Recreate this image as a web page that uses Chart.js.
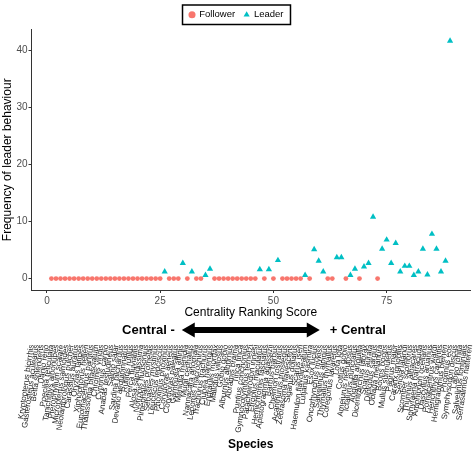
<!DOCTYPE html>
<html>
<head>
<meta charset="utf-8">
<script src="https://cdn.jsdelivr.net/npm/chart.js@4"></script>
<style>
  body { margin: 0; background: #fff; }
  #wrap { width: 474px; height: 453px; }
</style>
</head>
<body>
<div id="wrap"><canvas id="myChart"></canvas></div>
<script>
// Data

const followerRanks = [
  1, 2, 3, 4, 5, 6, 7, 8, 9, 10, 11, 12, 13, 14, 15, 16, 17, 18, 19, 20, 21,
  22, 23, 24, 25, 27, 28, 29, 31, 33, 34, 37, 38, 39, 40, 41, 42, 43, 44, 45,
  46, 48, 50, 52, 53, 54, 55, 56, 58, 62, 63, 66, 69, 73,
];
const followerFreq = followerRanks.map(() => 0);

const leaderRanks = [
  26, 30, 32, 35, 36, 47, 49, 51, 57, 59, 60, 61, 64, 65, 67, 68, 70, 71, 72,
  74, 75, 76, 77, 78, 79, 80, 81, 82, 83, 84, 85, 86, 87, 88, 89,
];
const leaderFreq = [
  1.2, 2.7, 1.2, 0.6, 1.7, 1.6, 1.6, 3.2, 0.6, 5.1, 3.1, 1.2, 3.7, 3.7, 0.6,
  1.7, 2.1, 2.7, 10.8, 5.2, 6.8, 2.7, 6.2, 1.2, 2.2, 2.2, 0.6, 1.2, 5.2, 0.7,
  7.8, 5.2, 1.2, 3.1, 41.6,
];

const xTicks = [0, 25, 50, 75];
const yTicks = [0, 10, 20, 30, 40];

const species = [
  "Kryptopterus bicirrhis", "Gasterosteus aculeatus", "Betta splendens",
  "Danio rerio", "Poecilia reticulata", "Tanichthys albonubes",
  "Pterophyllum scalare", "Micropterus salmoides", "Neolamprologus pulcher",
  "Carassius auratus", "Oryzias latipes", "Xiphophorus helleri",
  "Eupomacentrus partitus", "Thalassoma bifasciatum", "Chromis viridis",
  "Cyprinus carpio", "Anabas testudineus", "Salmo salar",
  "Sardina pilchardus", "Devario aequipinnatus", "Rutilus rutilus",
  "Perca fluviatilis", "Alosa sapidissima", "Notropis hudsonius",
  "Pimephales promelas", "Sebastes mystinus", "Leuciscus leuciscus",
  "Phoxinus phoxinus", "Corydoras aeneus", "Corydoras paleatus",
  "Gambusia affinis", "Menidia menidia", "Mugil cephalus",
  "Nannacara anomala", "Lepomis macrochirus", "Trachurus trachurus",
  "Clupea harengus", "Engraulis mordax", "Mallotus villosus",
  "Gobio gobio", "Alburnus alburnus", "Abramis brama",
  "Tinca tinca", "Puntius conchonius", "Gymnocorymbus ternetzi",
  "Paracheirodon innesi", "Etroplus maculatus", "Hemichromis fasciatus",
  "Apistogramma agassizii", "Barbus barbus", "Chelmon rostratus",
  "Acanthurus triostegus", "Zebrasoma flavescens", "Siganus doliatus",
  "Scarus iseri", "Haemulon flavolineatum", "Lutjanus kasmira",
  "Esox lucius", "Oncorhynchus mykiss", "Salvelinus alpinus",
  "Thymallus thymallus", "Coregonus lavaretus", "Lota lota",
  "Cottus gobio", "Ameiurus nebulosus", "Ictalurus punctatus",
  "Anguilla anguilla", "Dicentrarchus labrax", "Sparus aurata",
  "Diplodus sargus", "Oblada melanura", "Boops boops",
  "Mullus surmuletus", "Pagrus major", "Caranx ignobilis",
  "Seriola lalandi", "Scomber scombrus", "Thunnus albacares",
  "Sphyraena barracuda", "Amphiprion ocellaris", "Dascyllus aruanus",
  "Pomacentrus wardi", "Herichthys carpintis", "Hemigrammus bleheri",
  "Phoxinus eos", "Symphysodon discus", "Labeo rohita",
  "Salvelinus fontinalis", "Serrasalmus nattereri",
];

// Plugins

const legendBox = {
  id: "legendBox",
  afterDraw(chart) {
    const hb = chart.legend.legendHitBoxes;
    if (!hb || !hb.length) return;
    let l = Infinity, r = -Infinity, t = Infinity, b = -Infinity;
    hb.forEach((h) => {
      l = Math.min(l, h.left);
      r = Math.max(r, h.left + h.width);
      t = Math.min(t, h.top);
      b = Math.max(b, h.top + h.height);
    });
    const ctx = chart.ctx;
    ctx.save();
    ctx.strokeStyle = "#000";
    ctx.lineWidth = 1.5;
    ctx.strokeRect(l - 7, t - 5, r - l + 14, b - t + 10);
    ctx.restore();
  },
};

const centralArrow = {
  id: "centralArrow",
  afterDraw(chart) {
    const ctx = chart.ctx;
    const area = chart.chartArea;
    const cx = (area.left + area.right) / 2;
    const cy = chart.scales.species.top + 8;
    ctx.save();
    ctx.fillStyle = "#000";
    ctx.beginPath();
    ctx.moveTo(cx - 69, cy);
    ctx.lineTo(cx - 56, cy - 7.5);
    ctx.lineTo(cx - 56, cy - 3);
    ctx.lineTo(cx + 56, cy - 3);
    ctx.lineTo(cx + 56, cy - 7.5);
    ctx.lineTo(cx + 69, cy);
    ctx.lineTo(cx + 56, cy + 7.5);
    ctx.lineTo(cx + 56, cy + 3);
    ctx.lineTo(cx - 56, cy + 3);
    ctx.lineTo(cx - 56, cy + 7.5);
    ctx.closePath();
    ctx.fill();
    ctx.font = "bold 13px 'Liberation Sans', Arial, sans-serif";
    ctx.textBaseline = "middle";
    ctx.textAlign = "right";
    ctx.fillText("Central -", cx - 76, cy);
    ctx.textAlign = "left";
    ctx.fillText("+ Central", cx + 79, cy);
    ctx.restore();
  },
};

// Chart

const font = "'Liberation Sans', Arial, sans-serif";
Chart.defaults.font.family = font;

function noSidePadding(s) {
  s.paddingLeft = 0;
  s.paddingRight = 0;
}

new Chart(document.getElementById("myChart"), {
  type: "scatter",
  data: {
    datasets: [
      {
        label: "Follower",
        data: followerRanks.map((r, i) => ({ x: r, y: followerFreq[i] })),
        pointStyle: "circle",
        pointRadius: 2.4,
        backgroundColor: "#F8766D",
        borderColor: "#F8766D",
        borderWidth: 0,
      },
      {
        label: "Leader",
        data: leaderRanks.map((r, i) => ({ x: r, y: leaderFreq[i] })),
        pointStyle: "triangle",
        pointRadius: 3.6,
        backgroundColor: "#00BFC4",
        borderColor: "#00BFC4",
        borderWidth: 0,
      },
    ],
  },
  options: {
    responsive: true,
    maintainAspectRatio: false,
    animation: false,
    layout: { padding: { top: 1, right: 1, left: 0, bottom: 0 } },
    plugins: {
      legend: {
        position: "top",
        labels: {
          usePointStyle: true,
          boxWidth: 5,
          boxHeight: 5,
          padding: 9,
          color: "#000",
          font: { size: 9.5 },
        },
      },
      tooltip: { enabled: false },
    },
    scales: {
      x: {
        type: "linear",
        position: "bottom",
        min: -3.4,
        max: 93.4,
        afterBuildTicks: (s) => { s.ticks = xTicks.map((v) => ({ value: v })); },
        afterFit: (s) => { s.height = 32; noSidePadding(s); },
        grid: { drawOnChartArea: false, tickLength: 3, color: "#333" },
        border: { display: true, color: "#333", width: 1 },
        ticks: { color: "#4d4d4d", font: { size: 10 }, padding: 2, maxRotation: 0 },
        title: {
          display: true,
          text: "Centrality Ranking Score",
          color: "#000",
          font: { size: 12 },
          padding: { top: 0, bottom: 2 },
        },
      },
      species: {
        type: "category",
        position: "bottom",
        labels: species,
        afterFit: (s) => { s.height = 131; noSidePadding(s); },
        grid: { display: false },
        border: { display: false },
        ticks: {
          autoSkip: false,
          minRotation: 82,
          maxRotation: 82,
          padding: 14,
          color: "#222",
          font: { size: 8 },
        },
        title: {
          display: true,
          text: "Species",
          color: "#000",
          font: { size: 12, weight: "bold" },
          padding: { top: 0, bottom: 1 },
        },
      },
      y: {
        type: "linear",
        min: -2,
        max: 43.6,
        afterBuildTicks: (s) => { s.ticks = yTicks.map((v) => ({ value: v })); },
        grid: { drawOnChartArea: false, tickLength: 3, color: "#333" },
        border: { display: true, color: "#333", width: 1 },
        ticks: { color: "#4d4d4d", font: { size: 10 }, padding: 1 },
        title: {
          display: true,
          text: "Frequency of leader behaviour",
          color: "#000",
          font: { size: 12 },
          padding: { top: 0, bottom: 1 },
        },
      },
    },
  },
  plugins: [legendBox, centralArrow],
});
</script>
</body>
</html>
